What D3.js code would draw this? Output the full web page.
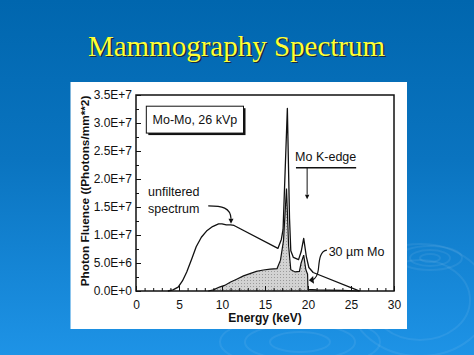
<!DOCTYPE html>
<html>
<head>
<meta charset="utf-8">
<script src="https://cdn.jsdelivr.net/npm/d3@7"></script>
<style>
html,body{margin:0;padding:0;overflow:hidden;}
svg{display:block;}
</style>
</head>
<body>
<svg id="c" width="474" height="355"></svg>
<script>
// ---- data (energy keV, photon fluence photons/mm^2) ----
const unfilteredEnergy = [3.7,4.3,4.9,5.4,5.9,6.5,7.0,7.6,8.2,8.9,9.6,10.0,10.5,11.0,11.4,16.5,16.9,17.1,17.6,17.85,18.0,18.3,18.9,19.2,19.5,19.8,20.1,20.6,25.5,26.0];
const unfilteredFluence = [0,0.02e7,0.07e7,0.18e7,0.34e7,0.58e7,0.79e7,0.96e7,1.07e7,1.15e7,1.2e7,1.2e7,1.18e7,1.18e7,1.17e7,0.76e7,0.92e7,1.1e7,3.26e7,1.3e7,0.72e7,0.6e7,0.56e7,0.7e7,0.94e7,0.62e7,0.42e7,0.33e7,0.03e7,0];
const filteredEnergy = [8.4,9.0,9.7,10.3,11.0,11.7,12.5,13.25,14.0,14.8,15.6,16.4,16.8,17.15,17.5,17.75,18.0,18.5,19.0,19.2,19.5,19.75,19.95,20.0,21.0,24.0,26.0];
const filteredFluence = [0,0.02e7,0.07e7,0.1e7,0.16e7,0.21e7,0.27e7,0.31e7,0.35e7,0.375e7,0.39e7,0.4e7,0.55e7,0.9e7,1.83e7,0.8e7,0.38e7,0.34e7,0.35e7,0.5e7,0.64e7,0.38e7,0.3e7,0.03e7,0.02e7,0.01e7,0];
const xTicks = [0,5,10,15,20,25,30];
const xTickLabels = ["0","5","10","15","20","25","30"];
const yTicks = [0,5e6,1e7,1.5e7,2e7,2.5e7,3e7,3.5e7];
const yTickLabels = ["0.0E+0","5.0E+6","1.0E+7","1.5E+7","2.0E+7","2.5E+7","3.0E+7","3.5E+7"];
const titleText = "Mammography Spectrum";
const xTitle = "Energy (keV)";
const yTitle = "Photon Fluence ((Photons/mm**2)";
const legendText = "Mo-Mo, 26 kVp";

const svg = d3.select("#c");
const W = 474, H = 355;

// background
const defs = svg.append("defs");
const bg = defs.append("linearGradient").attr("id","bg").attr("x1",0).attr("y1",0).attr("x2",0).attr("y2",1);
bg.append("stop").attr("offset","0%").attr("stop-color","#0066ae");
bg.append("stop").attr("offset","45%").attr("stop-color","#0a74c0");
bg.append("stop").attr("offset","100%").attr("stop-color","#1e93e6");
svg.append("rect").attr("width",W).attr("height",H).attr("fill","url(#bg)");
// faint ripples
const rip = svg.append("g").attr("fill","none").attr("stroke","rgba(255,255,255,0.07)").attr("stroke-width",2);
[[300,342,30,10],[300,342,55,18],[300,342,80,26],[430,258,10,4],[430,258,20,8],[430,258,32,12],[420,300,50,40],[420,300,70,56]].forEach(d=>{
  rip.append("ellipse").attr("cx",d[0]).attr("cy",d[1]).attr("rx",d[2]).attr("ry",d[3]);
});

// pattern for shaded area
const pat = defs.append("pattern").attr("id","stip").attr("width",3).attr("height",3).attr("patternUnits","userSpaceOnUse");
pat.append("rect").attr("width",3).attr("height",3).attr("fill","#d2d2d2");
pat.append("rect").attr("x",1).attr("y",1).attr("width",1).attr("height",1).attr("fill","#9a9a9a");

// title
svg.append("text").attr("x",238).attr("y",57).attr("text-anchor","middle")
  .attr("font-family","'Liberation Serif','Times New Roman',serif").attr("font-size",29)
  .attr("fill","#1a2a40").text(titleText);
svg.append("text").attr("x",236.5).attr("y",55.5).attr("text-anchor","middle")
  .attr("font-family","'Liberation Serif','Times New Roman',serif").attr("font-size",29)
  .attr("fill","#ffff33").text(titleText);

// white panel
svg.append("rect").attr("x",70.5).attr("y",82).attr("width",336.5).attr("height",247).attr("fill","#fff");

// scales
const x = d3.scaleLinear().domain([0,30]).range([136,394]);
const y = d3.scaleLinear().domain([0,3.5e7]).range([291,95]);

const g = svg.append("g");
const font = "'Liberation Sans',Arial,Helvetica,sans-serif";

// filtered area
const filt = filteredEnergy.map((e,i)=>[e,filteredFluence[i]]);
const unf = unfilteredEnergy.map((e,i)=>[e,unfilteredFluence[i]]);
g.append("path").datum(filt)
  .attr("d", d3.area().x(d=>x(d[0])).y0(y(0)).y1(d=>y(d[1])))
  .attr("fill","url(#stip)");
g.append("path").datum(filt)
  .attr("d", d3.line().x(d=>x(d[0])).y(d=>y(d[1])))
  .attr("fill","none").attr("stroke","#111").attr("stroke-width",1.2);
g.append("path").datum(unf)
  .attr("d", d3.line().x(d=>x(d[0])).y(d=>y(d[1])))
  .attr("fill","none").attr("stroke","#111").attr("stroke-width",1.3).attr("stroke-linejoin","round");

// frame
g.append("rect").attr("x",x(0)).attr("y",y(3.5e7)).attr("width",x(30)-x(0)).attr("height",y(0)-y(3.5e7))
  .attr("fill","none").attr("stroke","#111").attr("stroke-width",1.5);

// axes
const xAxis = d3.axisBottom(x).tickValues(xTicks).tickFormat((d,i)=>xTickLabels[i]).tickSize(-5).tickPadding(9);
const xa = g.append("g").attr("transform",`translate(0,${y(0)})`).call(xAxis);
const xMinor = d3.axisBottom(x).tickValues(d3.range(0,31,1).filter(v=>v%5!==0)).tickFormat("").tickSize(-3);
g.append("g").attr("transform",`translate(0,${y(0)})`).call(xMinor);
const yAxis = d3.axisLeft(y).tickValues(yTicks).tickFormat((d,i)=>yTickLabels[i]).tickSize(-5).tickPadding(4);
g.append("g").attr("transform",`translate(${x(0)},0)`).call(yAxis);
const yMinor = d3.axisLeft(y).tickValues(d3.range(2.5e6,3.5e7,5e6)).tickFormat("").tickSize(-3);
g.append("g").attr("transform",`translate(${x(0)},0)`).call(yMinor);
g.selectAll(".domain").remove();
g.selectAll(".tick line").attr("stroke","#111").attr("stroke-width",1);
g.selectAll(".tick text").attr("font-family",font).attr("font-size",12).attr("fill","#111");

// axis titles
g.append("text").attr("x",(x(0)+x(30))/2).attr("y",322).attr("text-anchor","middle")
  .attr("font-family",font).attr("font-weight","bold").attr("font-size",12).attr("fill","#111").text(xTitle);
g.append("text").attr("transform",`translate(89,${(y(0)+y(3.5e7))/2 - 2}) rotate(-90)`).attr("text-anchor","middle")
  .attr("font-family",font).attr("font-weight","bold").attr("font-size",11.8).attr("fill","#111").text(yTitle);

// legend box with shadow
const lx = x(1.2), ly = y(3.3e7), lw = x(12.5)-x(1.2), lh = y(2.82e7)-y(3.3e7);
g.append("rect").attr("x",lx+2).attr("y",ly+2).attr("width",lw).attr("height",lh).attr("fill","#111");
g.append("rect").attr("x",lx).attr("y",ly).attr("width",lw).attr("height",lh).attr("fill","#fff").attr("stroke","#111").attr("stroke-width",1);
g.append("text").attr("x",lx+lw/2).attr("y",ly+lh/2+4.5).attr("text-anchor","middle")
  .attr("font-family",font).attr("font-size",12.5).attr("fill","#111").text(legendText);

// annotations
const ann = g.append("g").attr("font-family",font).attr("font-size",12.5).attr("fill","#111");
ann.append("text").attr("x",x(1.4)).attr("y",y(1.69e7)).text("unfiltered");
ann.append("text").attr("x",x(1.4)).attr("y",y(1.4e7)).text("spectrum");
ann.append("text").attr("x",x(18.5)).attr("y",y(2.32e7)).text("Mo K-edge");
ann.append("text").attr("x",x(22.4)).attr("y",y(0.63e7)).text("30 µm Mo");

const arrowStroke = "#111";
// K-edge underline & arrow
g.append("line").attr("x1",x(18.6)).attr("x2",x(25.6)).attr("y1",y(2.2e7)).attr("y2",y(2.2e7)).attr("stroke",arrowStroke).attr("stroke-width",1.6);
g.append("line").attr("x1",x(19.9)).attr("x2",x(19.9)).attr("y1",y(2.2e7)).attr("y2",y(1.72e7)).attr("stroke",arrowStroke).attr("stroke-width",1);
g.append("path").attr("d",`M${x(19.9)-2.2},${y(1.72e7)} L${x(19.9)+2.2},${y(1.72e7)} L${x(19.9)},${y(1.64e7)} Z`).attr("fill",arrowStroke);

// unfiltered arrow (curved)
const p1 = d3.path();
p1.moveTo(x(8.4), y(1.52e7));
p1.bezierCurveTo(x(10.0), y(1.52e7), x(11.0), y(1.49e7), x(11.05), y(1.29e7));
g.append("path").attr("d",p1.toString()).attr("fill","none").attr("stroke",arrowStroke).attr("stroke-width",1.2);
g.append("path").attr("d",`M${x(11.05)-2.5},${y(1.29e7)} L${x(11.05)+2.5},${y(1.29e7)} L${x(11.05)},${y(1.2e7)} Z`).attr("fill",arrowStroke);

// 30 µm Mo arrow (curved)
const p2 = d3.path();
p2.moveTo(x(22.2), y(0.73e7));
p2.bezierCurveTo(x(21.3), y(0.72e7), x(21.3), y(0.5e7), x(21.2), y(0.38e7));
p2.bezierCurveTo(x(21.1), y(0.25e7), x(20.8), y(0.22e7), x(20.55), y(0.2e7));
g.append("path").attr("d",p2.toString()).attr("fill","none").attr("stroke",arrowStroke).attr("stroke-width",1.2);
g.append("path").attr("d",`M${x(20.6)},${y(0.27e7)} L${x(20.7)},${y(0.13e7)} L${x(20.1)},${y(0.19e7)} Z`).attr("fill",arrowStroke);
</script>
</body>
</html>
